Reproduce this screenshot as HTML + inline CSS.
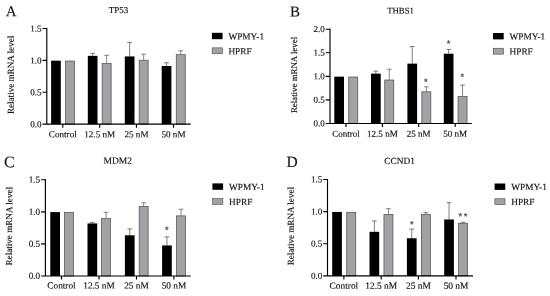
<!DOCTYPE html>
<html lang="en">
<head>
<meta charset="utf-8">
<title>Relative mRNA level</title>
<style>
html,body{margin:0;padding:0;background:#fff;}
body{width:550px;height:296px;overflow:hidden;}
svg{display:block;}
svg text{font-family:"Liberation Serif", "DejaVu Serif", serif;fill:#111;stroke:#111;stroke-width:0.14px;}
svg text.st{font-family:"Liberation Sans",sans-serif;fill:#505050;stroke:#505050;stroke-width:0.3px;letter-spacing:1.55px;}
svg text.pl{stroke-width:0.12px;}
</style>
</head>
<body>
<svg width="550" height="296" viewBox="0 0 550 296">
<rect width="550" height="296" fill="#fff"/>
<g>
<text transform="rotate(0.03 5.8 16.2)" x="5.8" y="16.2" font-size="15.0" class="pl">A</text>
<text transform="rotate(0.03 118.6 13.05)" x="118.6" y="13.05" font-size="9.0" text-anchor="middle">TP53</text>
<rect x="51.1" y="60.67" width="9.7" height="63.43" fill="#000"/>
<rect x="65.55" y="61.02" width="9" height="63.08" fill="#a3a1a6" stroke="#4a4a4a" stroke-width="0.7"/>
<path d="M92.65 55.84V53.36M90.25 53.36H95.05" stroke="#484848" stroke-width="0.7" fill="none"/>
<rect x="87.8" y="55.84" width="9.7" height="68.26" fill="#000"/>
<path d="M106.65 63.23V55.27M104.25 55.27H109.05" stroke="#505050" stroke-width="0.7" fill="none"/>
<rect x="102.15" y="63.58" width="9" height="60.52" fill="#a3a1a6" stroke="#4a4a4a" stroke-width="0.7"/>
<path d="M129.65 56.42V42.39M127.25 42.39H132.05" stroke="#484848" stroke-width="0.7" fill="none"/>
<rect x="124.8" y="56.42" width="9.7" height="67.68" fill="#000"/>
<path d="M143.65 59.86V54.31M141.25 54.31H146.05" stroke="#505050" stroke-width="0.7" fill="none"/>
<rect x="139.15" y="60.21" width="9" height="63.89" fill="#a3a1a6" stroke="#4a4a4a" stroke-width="0.7"/>
<path d="M166.55 65.98V62.79M164.15 62.79H168.95" stroke="#484848" stroke-width="0.7" fill="none"/>
<rect x="161.7" y="65.98" width="9.7" height="58.12" fill="#000"/>
<path d="M180.75 54.31V50.81M178.35 50.81H183.15" stroke="#505050" stroke-width="0.7" fill="none"/>
<rect x="176.25" y="54.66" width="9" height="69.44" fill="#a3a1a6" stroke="#4a4a4a" stroke-width="0.7"/>
<path d="M46.8 27.93V124.67M42.5 124.1H190.7M42.5 92.23H46.8M42.5 60.37H46.8M42.5 28.5H46.8M62.8 124.1V127.7M99.7 124.1V127.7M136.5 124.1V127.7M173.5 124.1V127.7" stroke="#000" stroke-width="1.15" fill="none"/>
<text transform="rotate(0.03 41.6 127.15)" x="41.6" y="127.15" font-size="9.15" text-anchor="end">0.0</text>
<text transform="rotate(0.03 41.6 95.28)" x="41.6" y="95.28" font-size="9.15" text-anchor="end">0.5</text>
<text transform="rotate(0.03 41.6 63.42)" x="41.6" y="63.42" font-size="9.15" text-anchor="end">1.0</text>
<text transform="rotate(0.03 41.6 31.55)" x="41.6" y="31.55" font-size="9.15" text-anchor="end">1.5</text>
<text transform="rotate(0.03 62.8 137.2)" x="62.8" y="137.2" font-size="9.15" text-anchor="middle">Control</text>
<text transform="rotate(0.03 99.7 137.2)" x="99.7" y="137.2" font-size="9.15" text-anchor="middle">12.5 nM</text>
<text transform="rotate(0.03 136.5 137.2)" x="136.5" y="137.2" font-size="9.15" text-anchor="middle">25 nM</text>
<text transform="rotate(0.03 173.5 137.2)" x="173.5" y="137.2" font-size="9.15" text-anchor="middle">50 nM</text>
<text transform="translate(13.7 114.05) rotate(-89.97)" font-size="9.1">Relative mRNA level</text>
<rect x="211.9" y="32.8" width="10.7" height="6.4" fill="#000"/>
<rect x="212.15" y="47.85" width="10.2" height="5.9" fill="#a3a1a6" stroke="#4a4a4a" stroke-width="0.6"/>
<text transform="rotate(0.03 228.4 39.4)" x="228.4" y="39.4" font-size="9.3">WPMY-1</text>
<text transform="rotate(0.03 228.4 54.2)" x="228.4" y="54.2" font-size="9.3">HPRF</text>
</g>
<g>
<text transform="rotate(0.03 290 16.6)" x="290" y="16.6" font-size="15.0" class="pl">B</text>
<text transform="rotate(0.03 400.5 13.6)" x="400.5" y="13.6" font-size="8.75" text-anchor="middle">THBS1</text>
<rect x="334.3" y="76.65" width="9.7" height="46.85" fill="#000"/>
<rect x="348.75" y="77" width="9" height="46.5" fill="#a3a1a6" stroke="#4a4a4a" stroke-width="0.7"/>
<path d="M375.85 73.62V71.07M373.45 71.07H378.25" stroke="#484848" stroke-width="0.7" fill="none"/>
<rect x="371" y="73.62" width="9.7" height="49.88" fill="#000"/>
<path d="M389.25 79.65V69.28M386.85 69.28H391.65" stroke="#505050" stroke-width="0.7" fill="none"/>
<rect x="384.75" y="80" width="9" height="43.5" fill="#a3a1a6" stroke="#4a4a4a" stroke-width="0.7"/>
<path d="M412.25 63.62V46.55M409.85 46.55H414.65" stroke="#484848" stroke-width="0.7" fill="none"/>
<rect x="407.4" y="63.62" width="9.7" height="59.88" fill="#000"/>
<path d="M426.35 91.44V86.82M423.95 86.82H428.75" stroke="#505050" stroke-width="0.7" fill="none"/>
<rect x="421.85" y="91.79" width="9" height="31.71" fill="#a3a1a6" stroke="#4a4a4a" stroke-width="0.7"/>
<path d="M448.65 53.72V49.38M446.25 49.38H451.05" stroke="#484848" stroke-width="0.7" fill="none"/>
<rect x="443.8" y="53.72" width="9.7" height="69.78" fill="#000"/>
<path d="M462.55 96.15V85.07M460.15 85.07H464.95" stroke="#505050" stroke-width="0.7" fill="none"/>
<rect x="458.05" y="96.5" width="9" height="27" fill="#a3a1a6" stroke="#4a4a4a" stroke-width="0.7"/>
<path d="M330 28.62V124.08M325.7 123.5H471.8M325.7 99.92H330M325.7 76.35H330M325.7 52.78H330M325.7 29.2H330M346 123.5V127.1M382.4 123.5V127.1M418.7 123.5V127.1M455.2 123.5V127.1" stroke="#000" stroke-width="1.15" fill="none"/>
<text transform="rotate(0.03 324.8 126.35)" x="324.8" y="126.35" font-size="9.05" text-anchor="end">0.0</text>
<text transform="rotate(0.03 324.8 102.77)" x="324.8" y="102.77" font-size="9.05" text-anchor="end">0.5</text>
<text transform="rotate(0.03 324.8 79.2)" x="324.8" y="79.2" font-size="9.05" text-anchor="end">1.0</text>
<text transform="rotate(0.03 324.8 55.63)" x="324.8" y="55.63" font-size="9.05" text-anchor="end">1.5</text>
<text transform="rotate(0.03 324.8 32.05)" x="324.8" y="32.05" font-size="9.05" text-anchor="end">2.0</text>
<text transform="rotate(0.03 346 136.8)" x="346" y="136.8" font-size="9.05" text-anchor="middle">Control</text>
<text transform="rotate(0.03 382.4 136.8)" x="382.4" y="136.8" font-size="9.05" text-anchor="middle">12.5 nM</text>
<text transform="rotate(0.03 418.7 136.8)" x="418.7" y="136.8" font-size="9.05" text-anchor="middle">25 nM</text>
<text transform="rotate(0.03 455.2 136.8)" x="455.2" y="136.8" font-size="9.05" text-anchor="middle">50 nM</text>
<text transform="translate(296.9 113.05) rotate(-89.97)" font-size="8.85">Relative mRNA level</text>
<text transform="rotate(0.03 449.38 46.8)" x="449.38" y="46.8" font-size="9.3" text-anchor="middle" class="st">*</text>
<text transform="rotate(0.03 426.68 85.1)" x="426.68" y="85.1" font-size="9.3" text-anchor="middle" class="st">*</text>
<text transform="rotate(0.03 463.18 79.9)" x="463.18" y="79.9" font-size="9.3" text-anchor="middle" class="st">*</text>
<rect x="493" y="33" width="10.7" height="6.4" fill="#000"/>
<rect x="493.25" y="48.25" width="10.2" height="5.9" fill="#a3a1a6" stroke="#4a4a4a" stroke-width="0.6"/>
<text transform="rotate(0.03 509.5 39.6)" x="509.5" y="39.6" font-size="9.3">WPMY-1</text>
<text transform="rotate(0.03 509.5 54.6)" x="509.5" y="54.6" font-size="9.3">HPRF</text>
</g>
<g>
<text transform="rotate(0.03 4.1 167.25)" x="4.1" y="167.25" font-size="16.0" class="pl">C</text>
<text transform="rotate(0.03 117.8 163.7)" x="117.8" y="163.7" font-size="9.5" text-anchor="middle">MDM2</text>
<rect x="50.3" y="212.1" width="9.7" height="63.9" fill="#000"/>
<rect x="64.55" y="212.45" width="9" height="63.55" fill="#a3a1a6" stroke="#4a4a4a" stroke-width="0.7"/>
<path d="M92.35 223.42V222.33M89.95 222.33H94.75" stroke="#484848" stroke-width="0.7" fill="none"/>
<rect x="87.5" y="223.42" width="9.7" height="52.58" fill="#000"/>
<path d="M106.05 218.28V212.31M103.65 212.31H108.45" stroke="#505050" stroke-width="0.7" fill="none"/>
<rect x="101.55" y="218.63" width="9" height="57.37" fill="#a3a1a6" stroke="#4a4a4a" stroke-width="0.7"/>
<path d="M129.75 235.3V228.88M127.35 228.88H132.15" stroke="#484848" stroke-width="0.7" fill="none"/>
<rect x="124.9" y="235.3" width="9.7" height="40.7" fill="#000"/>
<path d="M143.65 206.09V202.81M141.25 202.81H146.05" stroke="#505050" stroke-width="0.7" fill="none"/>
<rect x="139.15" y="206.44" width="9" height="69.56" fill="#a3a1a6" stroke="#4a4a4a" stroke-width="0.7"/>
<path d="M166.95 245.44V236.9M164.55 236.9H169.35" stroke="#484848" stroke-width="0.7" fill="none"/>
<rect x="162.1" y="245.44" width="9.7" height="30.56" fill="#000"/>
<path d="M181.05 215.52V209.23M178.65 209.23H183.45" stroke="#505050" stroke-width="0.7" fill="none"/>
<rect x="176.55" y="215.87" width="9" height="60.13" fill="#a3a1a6" stroke="#4a4a4a" stroke-width="0.7"/>
<path d="M45.4 179.12V276.57M41.1 276H190.8M41.1 243.9H45.4M41.1 211.8H45.4M41.1 179.7H45.4M61.5 276V279.6M99 276V279.6M136.5 276V279.6M173.9 276V279.6" stroke="#000" stroke-width="1.15" fill="none"/>
<text transform="rotate(0.03 40.2 278.85)" x="40.2" y="278.85" font-size="9.2" text-anchor="end">0.0</text>
<text transform="rotate(0.03 40.2 246.75)" x="40.2" y="246.75" font-size="9.2" text-anchor="end">0.5</text>
<text transform="rotate(0.03 40.2 214.65)" x="40.2" y="214.65" font-size="9.2" text-anchor="end">1.0</text>
<text transform="rotate(0.03 40.2 182.55)" x="40.2" y="182.55" font-size="9.2" text-anchor="end">1.5</text>
<text transform="rotate(0.03 61.5 288.5)" x="61.5" y="288.5" font-size="9.3" text-anchor="middle">Control</text>
<text transform="rotate(0.03 99 288.5)" x="99" y="288.5" font-size="9.3" text-anchor="middle">12.5 nM</text>
<text transform="rotate(0.03 136.5 288.5)" x="136.5" y="288.5" font-size="9.3" text-anchor="middle">25 nM</text>
<text transform="rotate(0.03 173.9 288.5)" x="173.9" y="288.5" font-size="9.3" text-anchor="middle">50 nM</text>
<text transform="translate(12.1 265.5) rotate(-89.97)" font-size="9.14">Relative mRNA level</text>
<text transform="rotate(0.03 167.68 233.1)" x="167.68" y="233.1" font-size="9.3" text-anchor="middle" class="st">*</text>
<rect x="212.4" y="183.4" width="10.7" height="6.4" fill="#000"/>
<rect x="212.65" y="198.55" width="10.2" height="5.9" fill="#a3a1a6" stroke="#4a4a4a" stroke-width="0.6"/>
<text transform="rotate(0.03 229.1 190)" x="229.1" y="190" font-size="9.3">WPMY-1</text>
<text transform="rotate(0.03 229.1 204.9)" x="229.1" y="204.9" font-size="9.3">HPRF</text>
</g>
<g>
<text transform="rotate(0.03 286.5 167.1)" x="286.5" y="167.1" font-size="15.5" class="pl">D</text>
<text transform="rotate(0.03 399.6 163.9)" x="399.6" y="163.9" font-size="9.35" text-anchor="middle">CCND1</text>
<rect x="332.2" y="211.93" width="9.7" height="63.97" fill="#000"/>
<rect x="346.75" y="212.28" width="9" height="63.62" fill="#a3a1a6" stroke="#4a4a4a" stroke-width="0.7"/>
<path d="M374.35 231.81V220.89M371.95 220.89H376.75" stroke="#484848" stroke-width="0.7" fill="none"/>
<rect x="369.5" y="231.81" width="9.7" height="44.09" fill="#000"/>
<path d="M388.45 214.14V208.68M386.05 208.68H390.85" stroke="#505050" stroke-width="0.7" fill="none"/>
<rect x="383.95" y="214.49" width="9" height="61.41" fill="#a3a1a6" stroke="#4a4a4a" stroke-width="0.7"/>
<path d="M411.75 238.24V229.05M409.35 229.05H414.15" stroke="#484848" stroke-width="0.7" fill="none"/>
<rect x="406.9" y="238.24" width="9.7" height="37.66" fill="#000"/>
<path d="M425.85 214.14V212.66M423.45 212.66H428.25" stroke="#505050" stroke-width="0.7" fill="none"/>
<rect x="421.35" y="214.49" width="9" height="61.41" fill="#a3a1a6" stroke="#4a4a4a" stroke-width="0.7"/>
<path d="M449.05 219.47V202.7M446.65 202.7H451.45" stroke="#484848" stroke-width="0.7" fill="none"/>
<rect x="444.2" y="219.47" width="9.7" height="56.43" fill="#000"/>
<path d="M463.05 222.94V222.3M460.65 222.3H465.45" stroke="#505050" stroke-width="0.7" fill="none"/>
<rect x="458.55" y="223.29" width="9" height="52.61" fill="#a3a1a6" stroke="#4a4a4a" stroke-width="0.7"/>
<path d="M327.5 178.93V276.47M323.2 275.9H473M323.2 243.77H327.5M323.2 211.63H327.5M323.2 179.5H327.5M343.9 275.9V279.5M381.2 275.9V279.5M418.4 275.9V279.5M456 275.9V279.5" stroke="#000" stroke-width="1.15" fill="none"/>
<text transform="rotate(0.03 322.3 278.7)" x="322.3" y="278.7" font-size="9.1" text-anchor="end">0.0</text>
<text transform="rotate(0.03 322.3 246.57)" x="322.3" y="246.57" font-size="9.1" text-anchor="end">0.5</text>
<text transform="rotate(0.03 322.3 214.43)" x="322.3" y="214.43" font-size="9.1" text-anchor="end">1.0</text>
<text transform="rotate(0.03 322.3 182.3)" x="322.3" y="182.3" font-size="9.1" text-anchor="end">1.5</text>
<text transform="rotate(0.03 343.9 288.8)" x="343.9" y="288.8" font-size="9.4" text-anchor="middle">Control</text>
<text transform="rotate(0.03 381.2 288.8)" x="381.2" y="288.8" font-size="9.4" text-anchor="middle">12.5 nM</text>
<text transform="rotate(0.03 418.4 288.8)" x="418.4" y="288.8" font-size="9.4" text-anchor="middle">25 nM</text>
<text transform="rotate(0.03 456 288.8)" x="456" y="288.8" font-size="9.4" text-anchor="middle">50 nM</text>
<text transform="translate(293.7 265.3) rotate(-89.97)" font-size="9.1">Relative mRNA level</text>
<text transform="rotate(0.03 412.58 227.6)" x="412.58" y="227.6" font-size="9.3" text-anchor="middle" class="st">*</text>
<text transform="rotate(0.03 463.78 219.6)" x="463.78" y="219.6" font-size="9.3" text-anchor="middle" class="st">**</text>
<rect x="494.6" y="183.5" width="10.7" height="6.4" fill="#000"/>
<rect x="494.85" y="198.75" width="10.2" height="5.9" fill="#a3a1a6" stroke="#4a4a4a" stroke-width="0.6"/>
<text transform="rotate(0.03 511.2 190.1)" x="511.2" y="190.1" font-size="9.3">WPMY-1</text>
<text transform="rotate(0.03 511.2 205.1)" x="511.2" y="205.1" font-size="9.3">HPRF</text>
</g>
</svg>
</body>
</html>
